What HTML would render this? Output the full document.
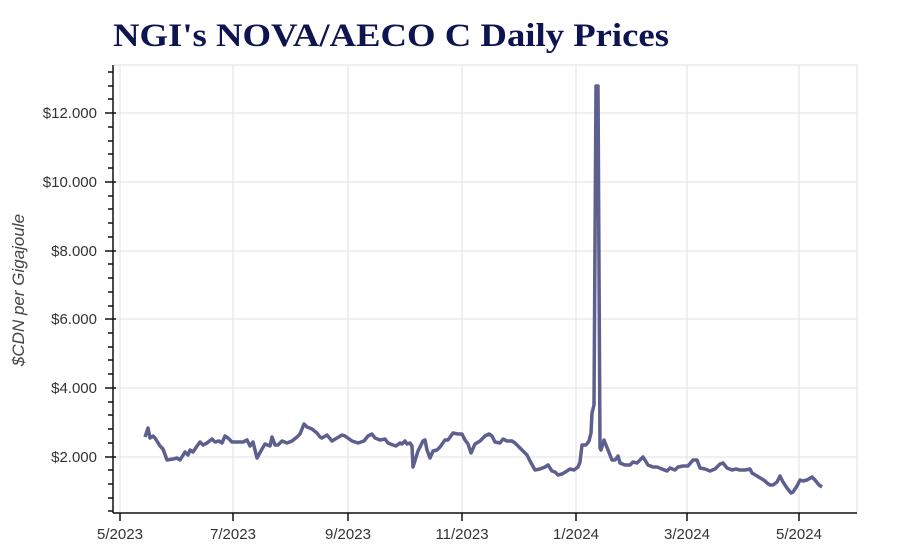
<!DOCTYPE html>
<html><head><style>body{margin:0;background:#fff}svg{display:block}</style></head><body>
<svg width="900" height="552" xmlns="http://www.w3.org/2000/svg" font-family="Liberation Sans, sans-serif">
<text x="113" y="46" font-family="Liberation Serif, serif" font-weight="bold" font-size="33" fill="#0d1450" textLength="556" lengthAdjust="spacingAndGlyphs">NGI's NOVA/AECO C Daily Prices</text>
<g stroke="#e2e2e2" stroke-width="1">
<line x1="120" y1="65" x2="120" y2="513"/><line x1="233" y1="65" x2="233" y2="513"/><line x1="348" y1="65" x2="348" y2="513"/><line x1="462" y1="65" x2="462" y2="513"/><line x1="576" y1="65" x2="576" y2="513"/><line x1="687" y1="65" x2="687" y2="513"/><line x1="799" y1="65" x2="799" y2="513"/><line x1="857" y1="65" x2="857" y2="513"/>
<line x1="113" y1="65" x2="857" y2="65"/>
<line x1="113" y1="113" x2="857" y2="113"/><line x1="113" y1="182" x2="857" y2="182"/><line x1="113" y1="251" x2="857" y2="251"/><line x1="113" y1="319" x2="857" y2="319"/><line x1="113" y1="388" x2="857" y2="388"/><line x1="113" y1="457" x2="857" y2="457"/>
</g>
<g stroke="#111" stroke-width="1.5">
<line x1="113" y1="65" x2="113" y2="513"/><line x1="113" y1="513" x2="857" y2="513"/>
<path d="M108 72h5M108 86h5M108 99h5M108 127h5M108 141h5M108 154h5M108 168h5M108 196h5M108 209h5M108 223h5M108 237h5M108 264h5M108 278h5M108 292h5M108 306h5M108 333h5M108 347h5M108 360h5M108 374h5M108 402h5M108 415h5M108 429h5M108 443h5M108 470h5M108 484h5M108 498h5M108 511h5"/>
<path d="M105 113h11M105 182h11M105 251h11M105 319h11M105 388h11M105 457h11"/>
<path d="M120 513v8M233 513v8M348 513v8M462 513v8M576 513v8M687 513v8M799 513v8"/>
</g>
<g font-size="15" fill="#333" text-anchor="end">
<text x="97" y="118">$12.000</text><text x="97" y="187">$10.000</text><text x="97" y="256">$8.000</text><text x="97" y="324">$6.000</text><text x="97" y="393">$4.000</text><text x="97" y="462">$2.000</text>
</g>
<g font-size="15" fill="#333" text-anchor="middle">
<text x="120" y="539">5/2023</text><text x="233" y="539">7/2023</text><text x="348" y="539">9/2023</text><text x="462" y="539">11/2023</text><text x="576" y="539">1/2024</text><text x="687" y="539">3/2024</text><text x="799" y="539">5/2024</text>
</g>
<text transform="translate(24,290) rotate(-90)" font-size="17" font-style="italic" fill="#444" text-anchor="middle">$CDN per Gigajoule</text>
<polyline fill="none" stroke="#5d5f8f" stroke-width="3.5" stroke-linejoin="round" points="145,437 148,428 150,438 153,436 155,438 160,446 163,449 167,460 173,459 177,458 180,460 185,452 188,455 190,450 193,452 197,446 200,442 203,445 207,443 212,439 215,442 219,441 222,443 225,436 228,438 232,442 243,442 247,440 250,446 253,442 257,458 262,449 265,444 270,446 272,437 275,445 278,445 282,441 287,443 292,441 297,437 300,434 304,424 307,427 312,429 317,433 320,437 322,438 327,435 332,441 337,438 342,435 345,436 352,441 358,443 364,441 368,436 372,434 375,438 380,440 385,439 388,443 393,445 396,446 400,443 402,444 405,441 407,444 410,443 412,446 413,467 418,451 423,441 425,440 427,450 430,458 433,451 437,450 440,447 445,440 448,440 453,433 458,434 462,434 465,440 468,444 471,453 475,444 480,441 485,436 489,434 492,436 495,442 500,443 503,439 507,441 512,441 515,443 520,448 523,451 527,455 530,461 535,470 540,469 545,467 548,465 552,471 555,472 558,475 562,474 567,471 570,469 574,470 578,467 580,462 582,445 586,445 589,441 591,433 592,413 594,405 596,86 598,86 600,448 601,450 604,440 608,450 612,460 615,460 618,456 620,463 625,465 630,465 633,462 637,463 640,460 643,457 648,465 653,467 657,467 662,469 667,471 670,468 675,470 678,467 683,466 688,466 693,460 697,460 700,468 705,469 710,471 715,469 720,464 723,463 727,468 732,470 736,469 740,470 745,470 750,469 752,473 757,476 762,479 765,481 767,483 770,485 773,485 777,482 780,476 783,482 787,488 791,493 793,492 797,486 800,480 803,481 807,480 812,477 815,480 819,485 822,487"/>
</svg>
</body></html>
